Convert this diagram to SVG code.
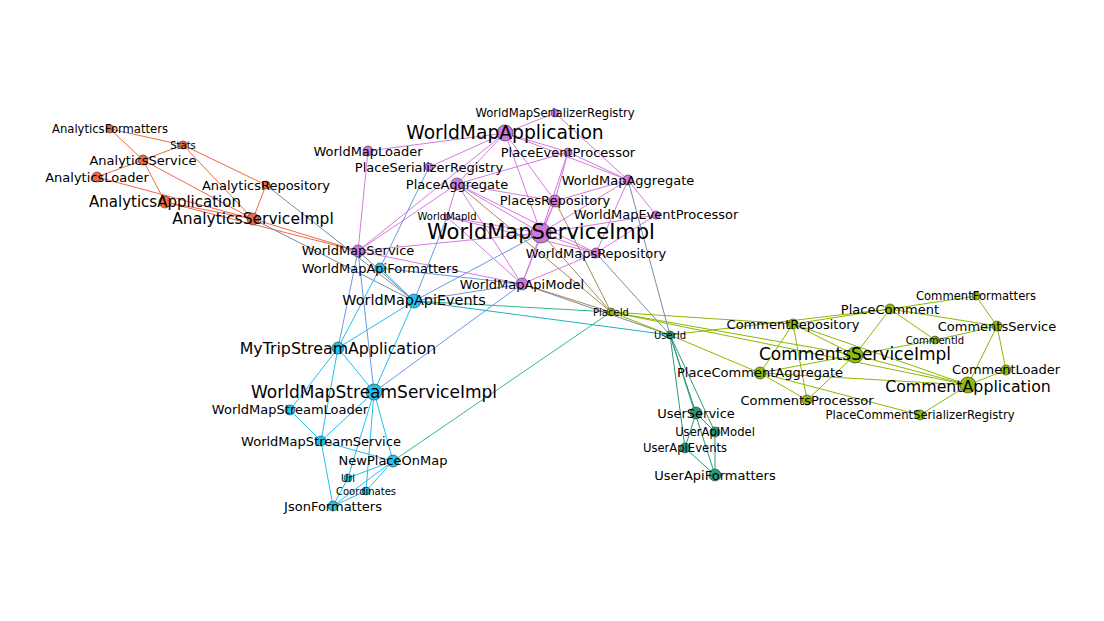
<svg xmlns="http://www.w3.org/2000/svg" width="1104" height="621" viewBox="0 0 1104 621">
<style>
text{font-family:"DejaVu Sans",sans-serif;fill:#000;text-anchor:middle;dominant-baseline:central}
.s{font-size:10px}.n{font-size:11.6px}.m{font-size:13px}.l{font-size:17px}.x{font-size:21px}
circle{stroke:#333;stroke-width:0.6}
.o{fill:#ee6a40}.p{fill:#d178dc}.c{fill:#20c4f0}.g{fill:#8fbc0a}.t{fill:#2a9a78}
#edges line{stroke-width:1}
.eo{stroke:#f06a44}.ep{stroke:#d67be0}.ec{stroke:#22c0f0}.eb{stroke:#6a98e8}.eg{stroke:#8cb800}.et{stroke:#2a9a78}.ebr{stroke:#a88a5a}.egb{stroke:#7a8aa8}.ecg{stroke:#30b890}
</style>
<rect width="1104" height="621" fill="#fff"/>
<g id="edges">
<line class="eo" x1="110" y1="129" x2="143" y2="160"/><line class="eo" x1="110" y1="129" x2="183" y2="145"/>
<line class="eo" x1="183" y1="145" x2="143" y2="160"/><line class="eo" x1="183" y1="145" x2="266" y2="185"/>
<line class="eo" x1="183" y1="145" x2="253" y2="219"/><line class="eo" x1="143" y1="160" x2="97" y2="177"/>
<line class="eo" x1="143" y1="160" x2="165" y2="202"/><line class="eo" x1="143" y1="160" x2="253" y2="219"/>
<line class="eo" x1="97" y1="177" x2="253" y2="219"/><line class="eo" x1="165" y1="202" x2="253" y2="219"/>
<line class="eo" x1="266" y1="185" x2="253" y2="219"/><line class="eo" x1="165" y1="202" x2="358" y2="251"/>
<line class="eo" x1="253" y1="219" x2="358" y2="251"/>
<line class="egb" x1="266" y1="185" x2="414" y2="301"/><line class="egb" x1="253" y1="219" x2="414" y2="301"/>
<line class="ep" x1="505" y1="133" x2="555" y2="113"/><line class="ep" x1="505" y1="133" x2="368" y2="151"/>
<line class="ep" x1="505" y1="133" x2="568" y2="152"/><line class="ep" x1="505" y1="133" x2="457" y2="184"/>
<line class="ep" x1="505" y1="133" x2="429" y2="167"/><line class="ep" x1="505" y1="133" x2="541" y2="233"/>
<line class="ep" x1="505" y1="133" x2="555" y2="201"/><line class="ep" x1="505" y1="133" x2="628" y2="180"/>
<line class="ep" x1="505" y1="133" x2="358" y2="251"/>
<line class="ep" x1="555" y1="113" x2="628" y2="180"/><line class="ep" x1="368" y1="151" x2="358" y2="251"/>
<line class="ep" x1="568" y1="152" x2="628" y2="180"/><line class="ep" x1="568" y1="152" x2="555" y2="201"/>
<line class="ep" x1="568" y1="152" x2="541" y2="233"/><line class="ep" x1="568" y1="152" x2="457" y2="184"/>
<line class="ep" x1="457" y1="184" x2="555" y2="201"/><line class="ep" x1="457" y1="184" x2="447" y2="217"/>
<line class="ep" x1="457" y1="184" x2="541" y2="233"/><line class="ep" x1="457" y1="184" x2="596" y2="253"/>
<line class="ep" x1="457" y1="184" x2="522" y2="284"/><line class="ep" x1="457" y1="184" x2="358" y2="251"/>
<line class="ep" x1="628" y1="180" x2="555" y2="201"/><line class="ep" x1="628" y1="180" x2="656" y2="215"/>
<line class="ep" x1="628" y1="180" x2="596" y2="253"/><line class="ep" x1="628" y1="180" x2="541" y2="233"/>
<line class="ep" x1="555" y1="201" x2="541" y2="233"/><line class="ep" x1="555" y1="201" x2="522" y2="284"/>
<line class="ep" x1="656" y1="215" x2="541" y2="233"/><line class="ep" x1="656" y1="215" x2="596" y2="253"/>
<line class="ep" x1="447" y1="217" x2="541" y2="233"/><line class="ep" x1="447" y1="217" x2="522" y2="284"/>
<line class="ep" x1="541" y1="233" x2="358" y2="251"/><line class="ep" x1="541" y1="233" x2="596" y2="253"/>
<line class="ep" x1="541" y1="233" x2="522" y2="284"/><line class="ep" x1="596" y1="253" x2="522" y2="284"/>
<line class="ep" x1="358" y1="251" x2="522" y2="284"/><line class="ep" x1="447" y1="217" x2="596" y2="253"/>
<line class="ebr" x1="457" y1="184" x2="611" y2="312"/><line class="ebr" x1="541" y1="233" x2="611" y2="312"/>
<line class="ebr" x1="555" y1="201" x2="611" y2="312"/><line class="ebr" x1="522" y1="284" x2="611" y2="312"/>
<line class="egb" x1="628" y1="180" x2="670" y2="335"/><line class="egb" x1="596" y1="253" x2="670" y2="335"/>
<line class="egb" x1="522" y1="284" x2="670" y2="335"/><line class="egb" x1="358" y1="251" x2="414" y2="301"/>
<line class="eb" x1="358" y1="251" x2="338" y2="348"/><line class="eb" x1="358" y1="251" x2="374" y2="392"/>
<line class="eb" x1="429" y1="167" x2="380" y2="268"/><line class="eb" x1="447" y1="217" x2="414" y2="301"/>
<line class="eb" x1="541" y1="233" x2="414" y2="301"/><line class="eb" x1="522" y1="284" x2="374" y2="392"/>
<line class="eb" x1="522" y1="284" x2="414" y2="301"/><line class="eb" x1="380" y1="268" x2="522" y2="284"/>
<line class="ec" x1="380" y1="268" x2="338" y2="348"/><line class="ec" x1="380" y1="268" x2="414" y2="301"/>
<line class="ec" x1="414" y1="301" x2="338" y2="348"/><line class="ec" x1="414" y1="301" x2="374" y2="392"/>
<line class="ec" x1="338" y1="348" x2="290" y2="410"/><line class="ec" x1="338" y1="348" x2="374" y2="392"/>
<line class="ec" x1="338" y1="348" x2="321" y2="441"/><line class="ec" x1="374" y1="392" x2="321" y2="441"/>
<line class="ec" x1="374" y1="392" x2="393" y2="461"/><line class="ec" x1="374" y1="392" x2="348" y2="478"/>
<line class="ec" x1="374" y1="392" x2="366" y2="491"/><line class="ec" x1="290" y1="410" x2="321" y2="441"/>
<line class="ec" x1="321" y1="441" x2="393" y2="461"/><line class="ec" x1="321" y1="441" x2="333" y2="506"/>
<line class="ec" x1="393" y1="461" x2="348" y2="478"/><line class="ec" x1="393" y1="461" x2="366" y2="491"/>
<line class="ec" x1="393" y1="461" x2="333" y2="506"/><line class="ec" x1="333" y1="506" x2="348" y2="478"/>
<line class="ec" x1="333" y1="506" x2="366" y2="491"/>
<line class="ecg" x1="414" y1="301" x2="611" y2="312"/><line style="stroke:#20b0c0" x1="414" y1="301" x2="670" y2="335"/>
<line class="ecg" x1="393" y1="461" x2="611" y2="312"/>
<line class="eg" x1="611" y1="312" x2="793" y2="324"/><line class="eg" x1="611" y1="312" x2="855" y2="355"/>
<line class="eg" x1="611" y1="312" x2="670" y2="335"/><line class="eg" x1="611" y1="312" x2="968" y2="385"/>
<line class="eg" x1="670" y1="335" x2="890" y2="309"/><line class="eg" x1="670" y1="335" x2="760" y2="373"/>
<line class="eg" x1="793" y1="324" x2="890" y2="309"/><line class="eg" x1="793" y1="324" x2="855" y2="355"/>
<line class="eg" x1="793" y1="324" x2="760" y2="373"/><line class="eg" x1="793" y1="324" x2="807" y2="400"/>
<line class="eg" x1="793" y1="324" x2="968" y2="385"/><line class="eg" x1="890" y1="309" x2="976" y2="296"/>
<line class="eg" x1="890" y1="309" x2="997" y2="326"/><line class="eg" x1="890" y1="309" x2="935" y2="340"/>
<line class="eg" x1="890" y1="309" x2="855" y2="355"/><line class="eg" x1="976" y1="296" x2="997" y2="326"/>
<line class="eg" x1="997" y1="326" x2="935" y2="340"/><line class="eg" x1="997" y1="326" x2="968" y2="385"/>
<line class="eg" x1="997" y1="326" x2="1006" y2="370"/><line class="eg" x1="935" y1="340" x2="855" y2="355"/>
<line class="eg" x1="855" y1="355" x2="760" y2="373"/><line class="eg" x1="855" y1="355" x2="807" y2="400"/>
<line class="eg" x1="855" y1="355" x2="968" y2="385"/><line class="eg" x1="760" y1="373" x2="807" y2="400"/>
<line class="eg" x1="760" y1="373" x2="968" y2="385"/><line class="eg" x1="760" y1="373" x2="920" y2="415"/>
<line class="eg" x1="968" y1="385" x2="1006" y2="370"/><line class="eg" x1="968" y1="385" x2="920" y2="415"/>
<line class="et" x1="670" y1="335" x2="696" y2="413"/><line class="et" x1="670" y1="335" x2="715" y2="432"/>
<line class="et" x1="670" y1="335" x2="685" y2="448"/><line class="et" x1="670" y1="335" x2="715" y2="475"/>
<line class="et" x1="696" y1="413" x2="715" y2="432"/><line class="et" x1="696" y1="413" x2="685" y2="448"/>
<line class="et" x1="685" y1="448" x2="715" y2="475"/><line class="et" x1="715" y1="432" x2="715" y2="475"/>
</g>
<g id="n-AF"><circle class="o" cx="110" cy="129" r="4"/><text class="n" x="110" y="129">AnalyticsFormatters</text></g>
<g id="n-St"><circle class="o" cx="183" cy="145" r="4"/><text class="s" x="183" y="145">Stats</text></g>
<g id="n-AS"><circle class="o" cx="143" cy="160" r="5"/><text class="m" x="143" y="160">AnalyticsService</text></g>
<g id="n-AL"><circle class="o" cx="97" cy="177" r="5"/><text class="m" x="97" y="177">AnalyticsLoader</text></g>
<g id="n-AR"><circle class="o" cx="266" cy="185" r="4"/><text class="m" x="266" y="185">AnalyticsRepository</text></g>
<g id="n-AA"><circle class="o" cx="165" cy="202" r="6"/><text style="font-size:15px" x="165" y="202">AnalyticsApplication</text></g>
<g id="n-ASI"><circle class="o" cx="253" cy="219" r="6"/><text style="font-size:15.5px" x="253" y="219">AnalyticsServiceImpl</text></g>
<g id="n-WMSR"><circle class="p" cx="555" cy="113" r="4"/><text class="n" x="555" y="113">WorldMapSerializerRegistry</text></g>
<g id="n-WMA"><circle class="p" cx="505" cy="133" r="8"/><text style="font-size:18.7px" x="505" y="132">WorldMapApplication</text></g>
<g id="n-WML"><circle class="p" cx="368" cy="151" r="5"/><text class="m" x="368" y="151">WorldMapLoader</text></g>
<g id="n-PSR"><circle class="p" cx="429" cy="167" r="4"/><text class="m" x="429" y="167">PlaceSerializerRegistry</text></g>
<g id="n-PEP"><circle class="p" cx="568" cy="152" r="4"/><text class="m" x="568" y="152">PlaceEventProcessor</text></g>
<g id="n-PA"><circle class="p" cx="457" cy="184" r="6"/><text class="m" x="457" y="184">PlaceAggregate</text></g>
<g id="n-WMAg"><circle class="p" cx="628" cy="180" r="5"/><text class="m" x="628" y="180">WorldMapAggregate</text></g>
<g id="n-PR"><circle class="p" cx="555" cy="201" r="6"/><text class="m" x="555" y="200">PlacesRepository</text></g>
<g id="n-WMId"><circle class="p" cx="447" cy="217" r="3"/><text class="s" x="447" y="216">WorldMapId</text></g>
<g id="n-WMEP"><circle class="p" cx="656" cy="215" r="4"/><text class="m" x="656" y="214">WorldMapEventProcessor</text></g>
<g id="n-WMSI"><circle class="p" cx="541" cy="233" r="10"/><text class="x" x="541" y="232">WorldMapServiceImpl</text></g>
<g id="n-WMsR"><circle class="p" cx="596" cy="253" r="5"/><text class="m" x="596" y="253">WorldMapsRepository</text></g>
<g id="n-WMS"><circle class="p" cx="358" cy="251" r="6"/><text class="m" x="358" y="250">WorldMapService</text></g>
<g id="n-WMAM"><circle class="p" cx="522" cy="284" r="6"/><text class="m" x="522" y="284">WorldMapApiModel</text></g>
<g id="n-WMAF"><circle class="c" cx="380" cy="268" r="5"/><text class="m" x="380" y="268">WorldMapApiFormatters</text></g>
<g id="n-WMAE"><circle class="c" cx="414" cy="301" r="7"/><text style="font-size:14.4px" x="414" y="300">WorldMapApiEvents</text></g>
<g id="n-MTSA"><circle class="c" cx="338" cy="348" r="6"/><text style="font-size:15.8px" x="338" y="348">MyTripStreamApplication</text></g>
<g id="n-WMSSI"><circle class="c" cx="374" cy="392" r="8"/><text class="l" x="374" y="392">WorldMapStreamServiceImpl</text></g>
<g id="n-WMSL"><circle class="c" cx="290" cy="410" r="5"/><text class="m" x="290" y="409">WorldMapStreamLoader</text></g>
<g id="n-WMSS"><circle class="c" cx="321" cy="441" r="5"/><text class="m" x="321" y="441">WorldMapStreamService</text></g>
<g id="n-NPOM"><circle class="c" cx="393" cy="461" r="6"/><text class="m" x="393" y="460">NewPlaceOnMap</text></g>
<g id="n-Url"><circle class="c" cx="348" cy="478" r="4"/><text class="s" x="348" y="478">Url</text></g>
<g id="n-Coord"><circle class="c" cx="366" cy="491" r="4"/><text class="s" x="366" y="491">Coordinates</text></g>
<g id="n-JF"><circle class="c" cx="333" cy="506" r="5"/><text class="m" x="333" y="506">JsonFormatters</text></g>
<g id="n-PlaceId"><circle class="g" cx="611" cy="312" r="4"/><text class="s" x="611" y="312">PlaceId</text></g>
<g id="n-CR"><circle class="g" cx="793" cy="324" r="5"/><text class="m" x="793" y="324">CommentRepository</text></g>
<g id="n-PC"><circle class="g" cx="890" cy="309" r="5"/><text class="m" x="890" y="309">PlaceComment</text></g>
<g id="n-CF"><circle class="g" cx="976" cy="296" r="4"/><text class="n" x="976" y="296">CommentFormatters</text></g>
<g id="n-CS"><circle class="g" cx="997" cy="326" r="5"/><text class="m" x="997" y="326">CommentsService</text></g>
<g id="n-CId"><circle class="g" cx="935" cy="340" r="4"/><text class="s" x="935" y="340">CommentId</text></g>
<g id="n-CSI"><circle class="g" cx="855" cy="355" r="8"/><text class="l" x="855" y="354">CommentsServiceImpl</text></g>
<g id="n-PCA"><circle class="g" cx="760" cy="373" r="6"/><text class="m" x="760" y="372">PlaceCommentAggregate</text></g>
<g id="n-CL"><circle class="g" cx="1006" cy="370" r="5"/><text class="m" x="1006" y="369">CommentLoader</text></g>
<g id="n-CA"><circle class="g" cx="968" cy="385" r="8"/><text style="font-size:15.8px" x="968" y="386">CommentApplication</text></g>
<g id="n-CP"><circle class="g" cx="807" cy="400" r="5"/><text class="m" x="807" y="400">CommentsProcessor</text></g>
<g id="n-PCSR"><circle class="g" cx="920" cy="415" r="5"/><text class="n" x="920" y="415">PlaceCommentSerializerRegistry</text></g>
<g id="n-UserId"><circle class="t" cx="670" cy="335" r="4"/><text class="s" x="670" y="335">UserId</text></g>
<g id="n-US"><circle class="t" cx="696" cy="413" r="6"/><text class="m" x="696" y="413">UserService</text></g>
<g id="n-UAM"><circle class="t" cx="715" cy="432" r="5"/><text class="n" x="715" y="432">UserApiModel</text></g>
<g id="n-UAE"><circle class="t" cx="685" cy="448" r="5"/><text class="n" x="685" y="448">UserApiEvents</text></g>
<g id="n-UAF"><circle class="t" cx="715" cy="475" r="6"/><text class="m" x="715" y="475">UserApiFormatters</text></g>
</svg>
